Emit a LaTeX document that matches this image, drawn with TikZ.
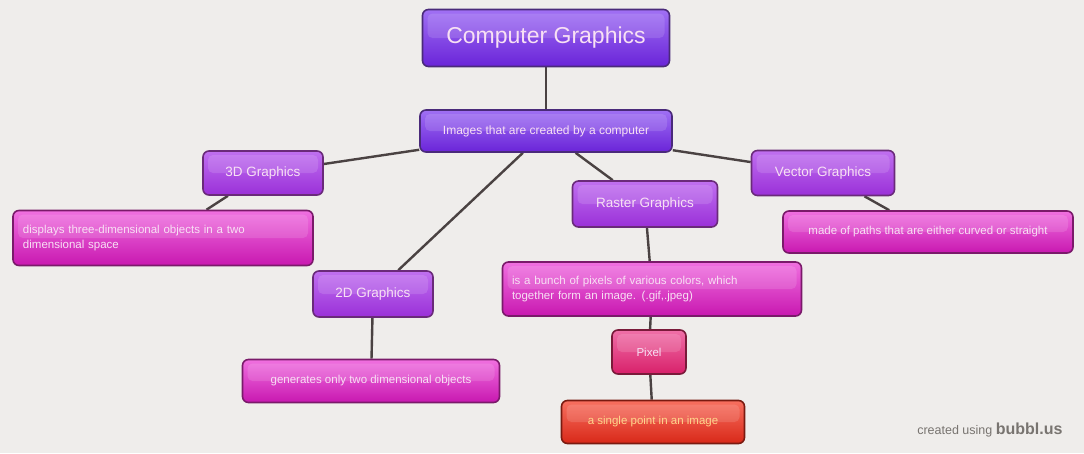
\documentclass[tikz,border=0pt]{standalone}
\usepackage{fontspec}
\setmainfont{Liberation Sans}
\usetikzlibrary{backgrounds}
\definecolor{bg}{HTML}{EFEDEB}
\definecolor{edge}{HTML}{4A4242}
\definecolor{ptop}{HTML}{A070F4}\definecolor{pbot}{HTML}{6A24D8}\definecolor{pbd}{HTML}{4A2A7A}
\definecolor{vtop}{HTML}{C070F0}\definecolor{vbot}{HTML}{9A30D8}\definecolor{vbd}{HTML}{6A2A7A}
\definecolor{mtop}{HTML}{F070E0}\definecolor{mbot}{HTML}{C818B0}\definecolor{mbd}{HTML}{7A1A6A}
\definecolor{ktop}{HTML}{F070A8}\definecolor{kbot}{HTML}{D8206A}\definecolor{kbd}{HTML}{7A1A3A}
\definecolor{rtop}{HTML}{F87060}\definecolor{rbot}{HTML}{D82818}\definecolor{rbd}{HTML}{7A1A10}
\definecolor{txt}{HTML}{F8E0F4}
\tikzset{x=1pt,y=-1pt,
 box/.style={draw, line width=1.6pt, rounded corners=6pt, inner sep=0pt, text=txt, font=\fontsize{13.5}{15}\selectfont,
   path picture={\fill[white,opacity=0.13,rounded corners=5pt] ([xshift=5pt,yshift=-4pt]path picture bounding box.north west) rectangle ([xshift=-5pt]path picture bounding box.east);}},
 pbox/.style={box, top color=ptop, bottom color=pbot, draw=pbd},
 vbox/.style={box, top color=vtop, bottom color=vbot, draw=vbd},
 mbox/.style={box, top color=mtop, bottom color=mbot, draw=mbd, font=\fontsize{11.5}{15}\selectfont},
 kbox/.style={box, top color=ktop, bottom color=kbot, draw=kbd, font=\fontsize{11.5}{15}\selectfont},
 rbox/.style={box, top color=rtop, bottom color=rbot, draw=rbd, text={rgb,255:red,255;green,214;blue,140}, font=\fontsize{11.5}{15}\selectfont},
 conn/.style={draw=edge, line width=2.4pt}}
\begin{document}
\begin{tikzpicture}
\useasboundingbox (0,0) rectangle (1084,453);
\node[pbox, minimum width=247pt, minimum height=57pt, font=\fontsize{23}{26}\selectfont] (cg) at (546,38) {Computer Graphics};
\node[pbox, minimum width=252pt, minimum height=42pt, font=\fontsize{12}{14}\selectfont] (img) at (546,131) {Images that are created by a computer};
\node[vbox, minimum width=120pt, minimum height=44pt] (d3) at (263,173) {3D Graphics};
\node[mbox, minimum width=300pt, minimum height=55pt, text width=280pt, align=left] (d3d) at (163,238) {displays three-dimensional objects in a two\\dimensional space};
\node[vbox, minimum width=120pt, minimum height=46pt] (d2) at (373,294) {2D Graphics};
\node[mbox, minimum width=257pt, minimum height=43pt] (d2d) at (371,381) {generates only two dimensional objects};
\node[vbox, minimum width=145pt, minimum height=46pt] (ra) at (645,204) {Raster Graphics};
\node[mbox, minimum width=299pt, minimum height=54pt, text width=280pt, align=left] (rad) at (652,289) {is a bunch of pixels of various colors, which\\together form an image. (.gif,.jpeg)};
\node[kbox, minimum width=74pt, minimum height=44pt] (px) at (649,352) {Pixel};
\node[rbox, minimum width=183pt, minimum height=43pt] (sp) at (653,422) {a single point in an image};
\node[vbox, minimum width=143pt, minimum height=45pt] (ve) at (823,173) {Vector Graphics};
\node[mbox, minimum width=290pt, minimum height=42pt] (ved) at (928,232) {made of paths that are either curved or straight};
\node[text={rgb,255:red,120;green,116;blue,112}, anchor=east, font=\fontsize{12.5}{14}\selectfont] (cr) at (1066,430) {created using \textbf{\fontsize{16}{16}\selectfont bubbl.us}};
\begin{scope}[on background layer]
\fill[bg] (0,0) rectangle (1084,453);
\draw[conn] (cg) -- (img);
\draw[conn] (img) -- (d3);
\draw[conn] (img) -- (d2);
\draw[conn] (img) -- (ra);
\draw[conn] (img) -- (ve);
\draw[conn] (d3) -- (d3d);
\draw[conn] (d2) -- (d2d);
\draw[conn] (ra) -- (rad);
\draw[conn] (rad) -- (px);
\draw[conn] (px) -- (sp);
\draw[conn] (ve) -- (ved);
\end{scope}
\end{tikzpicture}
\end{document}
